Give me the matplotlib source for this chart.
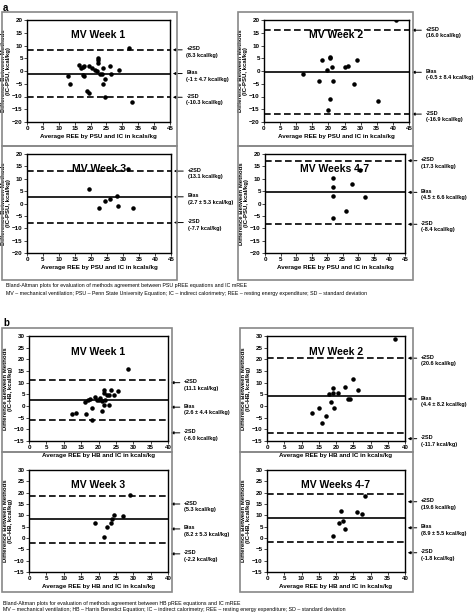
import matplotlib
matplotlib.use("Agg")
import matplotlib.pyplot as plt
from matplotlib.patches import Rectangle

W, H = 474, 615
fig = plt.figure(figsize=(W/100, H/100), dpi=100)
plt.rcParams['font.family'] = ['Liberation Sans', 'DejaVu Sans']

# ---- data ----
a1_x = [13,13.5,16.5,17,17.5,17.5,18,18,19,19.5,19.5,20.5,21.5,22,22.5,22.5,22.5,23,23.5,24,24,24.5,24.5,26,26.5,29,32,33]
a1_y = [-2,-5,2.5,1,-1.5,1.5,-2,2,-8,-8.5,2,1,0.5,0,5,4.5,3,-1,-1,1,-5,-3,-10,2,-1,0.5,9,-12]
a1_lines = [8.3, -1.0, -10.3]
a2_x = [12,17,18,19.5,20.5,20.5,21,21.5,20.5,20,25,26,28,29,35.5,41]
a2_y = [-1,-4,4.5,0.5,5.5,5,1.5,-4,-11,-15.2,1.5,1.8,-5,4.5,-11.8,20]
a2_lines = [16.0, -0.5, -16.9]
a3_x = [19.5,22.5,24.5,26,28,28.5,31.5,33]
a3_y = [6,-2,1,2,3,-1,14,-2]
a3_lines = [13.1, 2.7, -7.7]
a4_x = [22,22,22,22,26,28,30.5,32]
a4_y = [10.5,6.5,3,-6,-3,8,13.5,2.5]
a4_lines = [17.3, 4.5, -8.4]

b1_x = [12.5,13.5,16,16.5,17,17.5,18,18,19,19.5,20,20.5,21,21,21.5,21.5,21.5,22,22.5,23,23,23.5,24.5,25.5,28.5]
b1_y = [-3.5,-3,1.5,-3.5,2.5,3,-1,-6,4,2.5,2.5,3.5,2,-2,0.5,5.5,7,2.5,4.5,0.5,4.5,7,4.5,6.5,16]
b1_lines = [11.1, 2.6, -6.0]
b2_x = [13,15,16,17,18,18.5,19,19,19.5,20.5,22.5,23.5,24,25,26.5,37]
b2_y = [-3,-1,-7.5,-4.5,5,1.5,5.5,7.5,-1,5.5,8,3,3,11.5,7,28.5]
b2_lines = [20.6, 4.4, -11.7]
b3_x = [19,21.5,22.5,23.5,24,24.5,27,29]
b3_y = [6.8,0.5,4.8,6.8,8.5,10,9.5,19]
b3_lines = [18.6, 8.2, -2.2]
b4_x = [19,21,21.5,22,22.5,26,27.5,28.5]
b4_y = [1,6.5,12,7.5,3.8,11.5,10.7,18.5]
b4_lines = [19.6, 8.9, -1.8]

a_labels = [["+2SD\n(8.3 kcal/kg)", "Bias\n(-1 ± 4.7 kcal/kg)", "-2SD\n(-10.3 kcal/kg)"],
            ["+2SD\n(16.0 kcal/kg)", "Bias\n(-0.5 ± 8.4 kcal/kg)", "-2SD\n(-16.9 kcal/kg)"],
            ["+2SD\n(13.1 kcal/kg)", "Bias\n(2.7 ± 5.3 kcal/kg)", "-2SD\n(-7.7 kcal/kg)"],
            ["+2SD\n(17.3 kcal/kg)", "Bias\n(4.5 ± 6.6 kcal/kg)", "-2SD\n(-8.4 kcal/kg)"]]
b_labels = [["+2SD\n(11.1 kcal/kg)", "Bias\n(2.6 ± 4.4 kcal/kg)", "-2SD\n(-6.0 kcal/kg)"],
            ["+2SD\n(20.6 kcal/kg)", "Bias\n(4.4 ± 8.2 kcal/kg)", "-2SD\n(-11.7 kcal/kg)"],
            ["+2SD\n(5.3 kcal/kg)", "Bias\n(8.2 ± 5.3 kcal/kg)", "-2SD\n(-2.2 kcal/kg)"],
            ["+2SD\n(19.6 kcal/kg)", "Bias\n(8.9 ± 5.5 kcal/kg)", "-2SD\n(-1.8 kcal/kg)"]]
b_arrow_y = [[10, -0.5, -11.5], [20.5, 3, -14], [15, 4, -7], [16, 4.5, -6.5]]
titles = ["MV Week 1", "MV Week 2", "MV Week 3", "MV Weeks 4-7"]

def box(x0, y0, x1, y1):
    fig.patches.append(Rectangle((x0/W, 1-y1/H), (x1-x0)/W, (y1-y0)/H, transform=fig.transFigure,
                                 fill=False, ec='#888888', lw=1.2))

def panel(px, x, y, lines, title, labels, arrow_y, xmax, ylim, yt, xlabel, ylabel):
    x0, y0, x1, y1 = px
    ax = fig.add_axes([x0/W, 1-y1/H, (x1-x0)/W, (y1-y0)/H])
    ax.scatter(x, y, s=5, c='black', zorder=3)
    ax.axhline(lines[0], color='black', ls=(0, (4, 2)), lw=1.2)
    ax.axhline(lines[1], color='black', lw=1.2)
    ax.axhline(lines[2], color='black', ls=(0, (4, 2)), lw=1.2)
    ax.set_xlim(0, xmax); ax.set_ylim(*ylim)
    ax.set_xticks(range(0, xmax+1, 5)); ax.set_yticks(yt)
    ax.tick_params(labelsize=4.5, length=2, width=0.5, pad=1)
    for t in ax.get_xticklabels() + ax.get_yticklabels():
        t.set_fontweight('bold')
    for s in ax.spines.values():
        s.set_linewidth(1.0)
    ax.set_xlabel(xlabel, fontsize=4.5, fontweight='bold', labelpad=2)
    ax.set_ylabel(ylabel, fontsize=4.3, fontweight='bold', labelpad=1, linespacing=1.0)
    ax.text(0.5, 0.85, title, transform=ax.transAxes, ha='center', va='center',
            fontsize=7.5, fontweight='bold')
    for lab, yy in zip(labels, arrow_y):
        ax.annotate("", xy=(1.02, yy), xytext=(1.085, yy),
                    xycoords=ax.get_yaxis_transform(), textcoords=ax.get_yaxis_transform(),
                    arrowprops=dict(arrowstyle='-|>', color='black', lw=0.7, mutation_scale=4,
                                    shrinkA=0, shrinkB=0),
                    annotation_clip=False)
        ax.annotate(lab, xy=(1.115, yy), xycoords=ax.get_yaxis_transform(),
                    xytext=(0, 2.5), textcoords='offset points',
                    fontsize=4.0, fontweight='bold', va='top', ha='left',
                    linespacing=1.4, annotation_clip=False)
    return ax

yla = "Difference Between Methods\n(IC-PSU, kcal/kg)"
ylb = "Difference Between Methods\n(IC-HB, kcal/kg)"
xla = "Average REE by PSU and IC in kcals/kg"
xlb = "Average REE by HB and IC in kcals/kg"
yta = list(range(-20, 21, 5)); ytb = list(range(-15, 31, 5))

box(2, 12, 177, 146); box(238, 12, 413, 146); box(2, 146, 177, 280); box(238, 146, 413, 280)
box(2, 328, 172, 452); box(240, 328, 413, 452); box(2, 452, 172, 592); box(240, 452, 413, 592)

A = [a1_x, a1_y, a1_lines], [a2_x, a2_y, a2_lines], [a3_x, a3_y, a3_lines], [a4_x, a4_y, a4_lines]
B = [b1_x, b1_y, b1_lines], [b2_x, b2_y, b2_lines], [b3_x, b3_y, b3_lines], [b4_x, b4_y, b4_lines]
apos = [(27, 20, 170, 122), (264, 20, 409, 122), (27, 154, 171, 253), (265, 154, 405, 253)]
bpos = [(29, 336, 168, 441), (267, 336, 405, 441), (29, 470, 168, 572), (267, 470, 405, 572)]
for i in range(4):
    d = A[i]
    panel(apos[i], d[0], d[1], d[2], titles[i], a_labels[i], d[2], 45, (-20, 20), yta, xla, yla)
    d = B[i]
    panel(bpos[i], d[0], d[1], d[2], titles[i], b_labels[i], b_arrow_y[i], 40, (-15, 30), ytb, xlb, ylb)

fig.text(3/W, 1-8/H, "a", fontsize=7, fontweight='bold', va='center')
fig.text(3/W, 1-323/H, "b", fontsize=7, fontweight='bold', va='center')
fig.text(6/W, 1-286/H, "Bland-Altman plots for evaluation of methods agreement between PSU pREE equations and IC mREE",
         fontsize=3.8, va='center')
fig.text(6/W, 1-293/H, "MV – mechanical ventilation; PSU – Penn State University Equation; IC – indirect calorimetry; REE – resting energy expenditure; SD – standard deviation",
         fontsize=3.8, va='center')
fig.text(3/W, 1-604/H, "Bland-Altman plots for evaluation of methods agreement between HB pREE equations and IC mREE",
         fontsize=3.8, va='center')
fig.text(3/W, 1-610/H, "MV – mechanical ventilation; HB – Harris Benedict Equation; IC – indirect calorimetry; REE – resting energy expenditure; SD – standard deviation",
         fontsize=3.8, va='center')

fig.savefig("out.png", dpi=100)
